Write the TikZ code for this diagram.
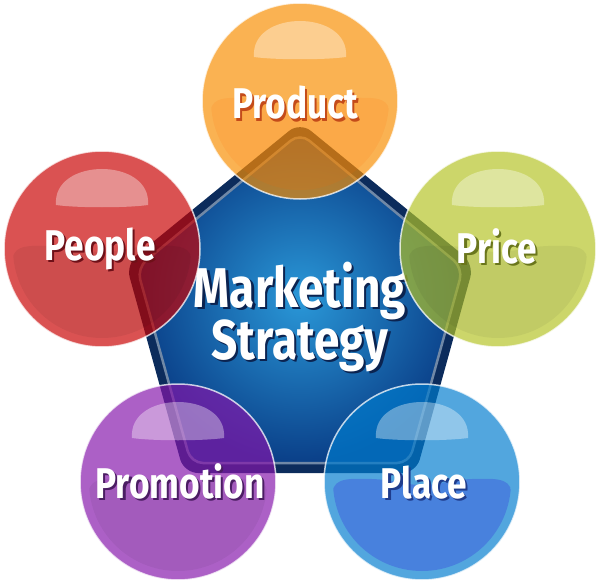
\documentclass[tikz,border=0pt]{standalone}
\usepackage{fontspec}
\newfontfamily\lblfont[FakeStretch=0.82]{Fira Sans}
\definecolor{prodC}{HTML}{F88E00}
\definecolor{prodS}{HTML}{C44B1A}
\definecolor{peopC}{HTML}{C80000}
\definecolor{peopS}{HTML}{6E1018}
\definecolor{pricC}{HTML}{B4C324}
\definecolor{pricS}{HTML}{6A761C}
\definecolor{promC}{HTML}{8515AB}
\definecolor{promS}{HTML}{4B1D63}
\definecolor{plcC}{HTML}{007CCE}
\definecolor{plcS}{HTML}{1F3C8C}
\definecolor{rimC}{HTML}{0C2C5C}
\definecolor{bevC}{HTML}{7088A6}
\definecolor{penIn}{HTML}{2A98D8}
\definecolor{penOut}{HTML}{0A3F88}
\definecolor{centS}{HTML}{0B2350}
\newcommand\shtxt[2]{\makebox[0pt][l]{\hspace{2.2pt}\raisebox{-2.6pt}{\color{#1}#2}}#2}
\tikzset{
  bub/.style={circle, minimum size=196pt, inner sep=0pt, fill opacity=0.68,
    draw=white, draw opacity=0.75, line width=1.5pt},
  lbl/.style={text=white, anchor=base, inner sep=0pt,
    font=\lblfont\bfseries\fontsize{43}{43}\selectfont},
  cent/.style={text=white, align=center, inner sep=0pt,
    font=\lblfont\bfseries\fontsize{56}{47}\selectfont},
  shine/.style={white, opacity=0.36}
}
% name, x, y, fill, lower colour, lower opacity, shadow colour, text dx, text dy
\newcommand\bubble[9]{%
  \node[bub, fill=#4] (#1) at (#2,#3) {};
  \begin{scope}[shift={(#2,#3)}]
    \clip (0,0) circle (89);
    \fill[#5, opacity=#6] (-90,16) .. controls (-90,-3) and (-80,-4) .. (-50,-3)
      .. controls (-25,-2) and (-18,3) .. (0,3) .. controls (18,3) and (25,-2) .. (50,-3)
      .. controls (80,-4) and (90,-3) .. (90,16) -- (90,100) -- (-90,100) -- cycle;
    \fill[shine] (-46,-44) .. controls (-50,-92) and (50,-92) .. (46,-44)
      .. controls (25,-41) and (-25,-41) .. cycle;
  \end{scope}
  \node[lbl] (#1-t) at ($(#1)+(#8,#9)$) {\shtxt{#7}{\csname bubtext#1\endcsname}};
}
\newcommand\bubtextprod{Product}
\newcommand\bubtextpeop{People}
\newcommand\bubtextpric{Price}
\newcommand\bubtextprom{Promotion}
\newcommand\bubtextplc{Place}
\usetikzlibrary{calc}
\begin{document}
\begin{tikzpicture}[x=1pt, y=-1pt]
  \useasboundingbox (0,0) rectangle (600,583);
  % pentagon
  \coordinate (pT) at (300,122);
  \coordinate (pL) at (126,264);
  \coordinate (pR) at (474,264);
  \coordinate (pBL) at (184,473);
  \coordinate (pBR) at (416,473);
  \fill[rimC, rounded corners=14pt] (pT) -- (pR) -- (pBR) -- (pBL) -- (pL) -- cycle;
  \coordinate (iT) at (300,133);
  \coordinate (iL) at (137,268);
  \coordinate (iR) at (463,268);
  \coordinate (iBL) at (191,463);
  \coordinate (iBR) at (409,463);
  \shade[inner color=penIn, outer color=penOut, rounded corners=12pt]
    (iT) -- (iR) -- (iBR) -- (iBL) -- (iL) -- cycle;
  \draw[bevC, line width=2.5pt, rounded corners=12pt]
    (iT) -- (iR) -- (iBR) -- (iBL) -- (iL) -- cycle;
  \node[cent] (center) at (300,318)
    {\shtxt{centS}{Marketing}\\[-4pt]\shtxt{centS}{Strategy}};
  % bubbles
  \bubble{prod}{300}{101}{prodC}{orange!80!red}{0.12}{prodS}{-5}{18}
  \bubble{peop}{102}{249}{peopC}{black}{0.06}{peopS}{-2}{11}
  \bubble{pric}{498}{249}{pricC}{black}{0.05}{pricS}{-1}{14}
  \bubble{prom}{178}{482}{promC}{black}{0.05}{promS}{2}{16}
  \bubble{plc}{422}{482}{plcC}{blue!70!violet}{0.22}{plcS}{2}{16}
\end{tikzpicture}
\end{document}
